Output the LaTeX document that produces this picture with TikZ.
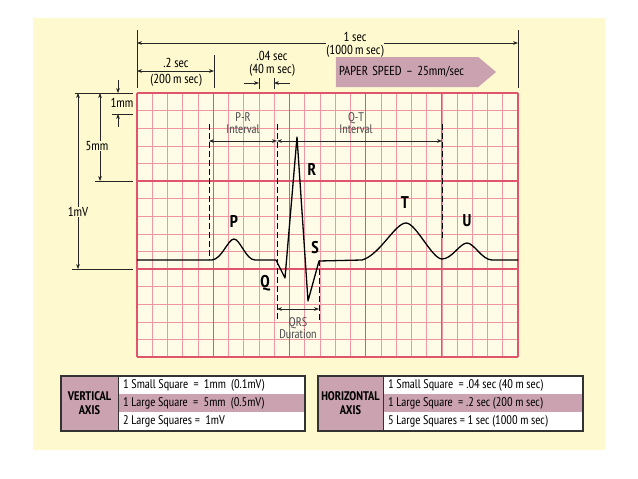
\documentclass[tikz,border=0pt]{standalone}
\usepackage{fontspec}
\setmainfont{PT Sans Narrow}
\usetikzlibrary{arrows.meta,shapes.arrows}
\definecolor{bgy}{RGB}{254,249,207}
\definecolor{gsmall}{RGB}{238,150,162}
\definecolor{glarge}{RGB}{222,85,108}
\definecolor{mauve}{RGB}{203,163,176}
\tikzset{
  dim/.style={draw=black!85,line width=0.7pt},
  dimarr/.style={dim,{Stealth[length=5pt]}-{Stealth[length=5pt]}},
  onearr/.style={dim,-{Stealth[length=5pt]}},
  dsh/.style={draw=black,line width=1pt,dash pattern=on 6pt off 3pt},
  lbl/.style={font=\fontsize{13}{13}\selectfont,inner sep=0.5pt,align=center},
  glbl/.style={font=\fontsize{12.5}{12.5}\selectfont,text=black!70,inner sep=0.5pt,align=center},
  wave/.style={font=\bfseries\fontsize{17}{17}\selectfont,inner sep=0pt},
  cell/.style={font=\fontsize{12.5}{12.5}\selectfont,anchor=west,inner sep=0pt},
  head/.style={font=\bfseries\fontsize{12.5}{14}\selectfont,align=center,inner sep=0pt}
}
\begin{document}
\begin{tikzpicture}[x=1pt,y=-1pt]
\useasboundingbox (0,0) rectangle (638,479);
\fill[white] (0,0) rectangle (638,479);
\fill[bgy] (33,18) rectangle (605,450);
% grid
\fill[white!50!bgy] (137,93) rectangle (518,357);
\foreach \i in {0,...,25} \draw[gsmall,line width=0.6pt] ({137+\i*15.24},93) -- ({137+\i*15.24},357);
\foreach \j in {0,...,15} \draw[gsmall,line width=0.6pt] (137,{93+\j*17.6}) -- (518,{93+\j*17.6});
\foreach \i in {0,...,5} \draw[glarge,line width=1.2pt] ({137+\i*76.2},93) -- ({137+\i*76.2},357);
\foreach \j in {0,...,3} \draw[glarge,line width=1.2pt] (137,{93+\j*88}) -- (518,{93+\j*88});
% top dimensions
\coordinate (t1a) at (137,30); \coordinate (t1b) at (137,88);
\coordinate (t2a) at (518,30); \coordinate (t2b) at (518,88);
\coordinate (t3a) at (214,55); \coordinate (t3b) at (214,88);
\draw[dim] (t1a) -- (t1b); \draw[dim] (t2a) -- (t2b); \draw[dim] (t3a) -- (t3b);
\node[lbl,fill=bgy] (onesec) at (355,45) {1 sec\\(1000\,m sec)};
\coordinate (s1) at (137,43); \coordinate (s2) at (518,43);
\draw[onearr] (onesec.west |- s1) -- (s1);
\draw[onearr] (onesec.east |- s2) -- (s2);
\coordinate (p1) at (137,71); \coordinate (p2) at (214,71);
\draw[dimarr] (p1) -- (p2);
\node[lbl] (twosec) at (176,63) {.2 sec};
\node[lbl] (twoms) at (176,80) {(200\,m sec)};
\node[lbl] (fsec) at (272,64) {.04 sec\\(40\,m sec)};
\coordinate (k1a) at (259,78); \coordinate (k1b) at (259,89);
\coordinate (k2a) at (274,78); \coordinate (k2b) at (274,89);
\draw[dim] (k1a) -- (k1b); \draw[dim] (k2a) -- (k2b);
\coordinate (a1) at (244,83); \coordinate (a1e) at (259,83);
\coordinate (a2) at (290,83); \coordinate (a2e) at (274,83);
\draw[onearr] (a1) -- (a1e); \draw[onearr] (a2) -- (a2e);
\node[single arrow,fill=mauve,minimum height=156pt,minimum width=30pt,single arrow head extend=0pt,single arrow tip angle=80,inner sep=1pt,font=\fontsize{13}{13}\selectfont,text width=140pt] (speed) at (407,72) {\hspace*{2pt}PAPER SPEED -- 25mm/sec};
% left dimensions
\coordinate (l0a) at (75,93); \coordinate (l0b) at (133,93);
\coordinate (l1a) at (112,114); \coordinate (l1b) at (133,114);
\coordinate (l2a) at (95,181); \coordinate (l2b) at (133,181);
\coordinate (l3a) at (72,269); \coordinate (l3b) at (133,269);
\draw[dim] (l0a) -- (l0b); \draw[dim] (l1a) -- (l1b); \draw[dim] (l2a) -- (l2b); \draw[dim] (l3a) -- (l3b);
\coordinate (m1) at (118,80); \coordinate (m1e) at (118,93);
\coordinate (m2) at (118,127); \coordinate (m2e) at (118,114);
\draw[onearr] (m1) -- (m1e); \draw[onearr] (m2) -- (m2e);
\node[lbl] (onemm) at (122,103) {1mm};
\coordinate (f1) at (100,93); \coordinate (f2) at (100,181);
\draw[dimarr] (f1) -- (f2);
\node[lbl,fill=bgy] (fivemm) at (97,146) {5mm};
\coordinate (v1) at (78,93); \coordinate (v2) at (78,269);
\draw[dimarr] (v1) -- (v2);
\node[lbl,fill=bgy] (onemv) at (78,212) {1mV};
% intervals
\coordinate (d1a) at (209,124); \coordinate (d1b) at (209,260);
\coordinate (d2a) at (277,124); \coordinate (d2b) at (277,320);
\coordinate (d3a) at (442,124); \coordinate (d3b) at (442,240);
\coordinate (d4a) at (319,260); \coordinate (d4b) at (319,320);
\draw[dsh] (d1a) -- (d1b); \draw[dsh] (d2a) -- (d2b); \draw[dsh] (d3a) -- (d3b); \draw[dsh] (d4a) -- (d4b);
\coordinate (pr1) at (209,141); \coordinate (pr2) at (277,141); \coordinate (qt2) at (442,141);
\draw[dimarr] (pr1) -- (pr2); \draw[dimarr] (pr2) -- (qt2);
\node[glbl] (prl) at (243,123) {P-R\\Interval};
\node[glbl] (qtl) at (356,123) {Q-T\\Interval};
\coordinate (q1) at (277,309); \coordinate (q2) at (319,309);
\draw[dimarr] (q1) -- (q2);
\node[glbl] (qrsl) at (298,328) {QRS\\Duration};
% trace
\draw[black,line width=1.3pt,line join=round] (137,260) -- (212,260)
  .. controls (222,259) and (228,239) .. (234,239)
  .. controls (240,239) and (246,260) .. (255,260) -- (276,260)
  -- (285,278) -- (297,137) -- (308,301) -- (319,261) -- (362,260)
  .. controls (380,255) and (395,223) .. (406,223)
  .. controls (416,223) and (432,259) .. (442,259)
  .. controls (452,259) and (460,243) .. (467,243)
  .. controls (474,243) and (482,260) .. (492,260) -- (518,260);
\node[wave] (P) at (234,221) {P};
\node[wave] (Q) at (265,283) {Q};
\node[wave] (R) at (312,169) {R};
\node[wave] (S) at (315,248) {S};
\node[wave] (T) at (405,203) {T};
\node[wave] (U) at (467,221) {U};
% tables
\fill[white] (61,376) rectangle (305,431);
\fill[mauve] (61,376) rectangle (118,431);
\fill[mauve] (118,394) rectangle (305,412);
\draw[line width=1.2pt,black!80] (61,376) rectangle (305,431);
\draw[line width=0.7pt,black!80] (118,376) -- (118,431);
\node[head] (vh) at (89.5,403.5) {VERTICAL\\AXIS};
\node[cell] (v1t) at (123,385) {1 Small Square\ \ =\ \ 1mm\ \ (0.1mV)};
\node[cell] (v2t) at (123,403) {1 Large Square\ \ =\ \ 5mm\ \ (0.5mV)};
\node[cell] (v3t) at (123,421) {2 Large Squares =\ \ 1mV};
\fill[white] (318,376) rectangle (583,431);
\fill[mauve] (318,376) rectangle (383,431);
\fill[mauve] (383,394) rectangle (583,412);
\draw[line width=1.2pt,black!80] (318,376) rectangle (583,431);
\draw[line width=0.7pt,black!80] (383,376) -- (383,431);
\node[head] (hh) at (350.5,403.5) {HORIZONTAL\\AXIS};
\node[cell] (h1t) at (388,385) {1 Small Square\ \ = .04 sec (40 m sec)};
\node[cell] (h2t) at (388,403) {1 Large Square\ \ = .2 sec (200 m sec)};
\node[cell] (h3t) at (388,421) {5 Large Squares = 1 sec (1000 m sec)};
\end{tikzpicture}
\end{document}
